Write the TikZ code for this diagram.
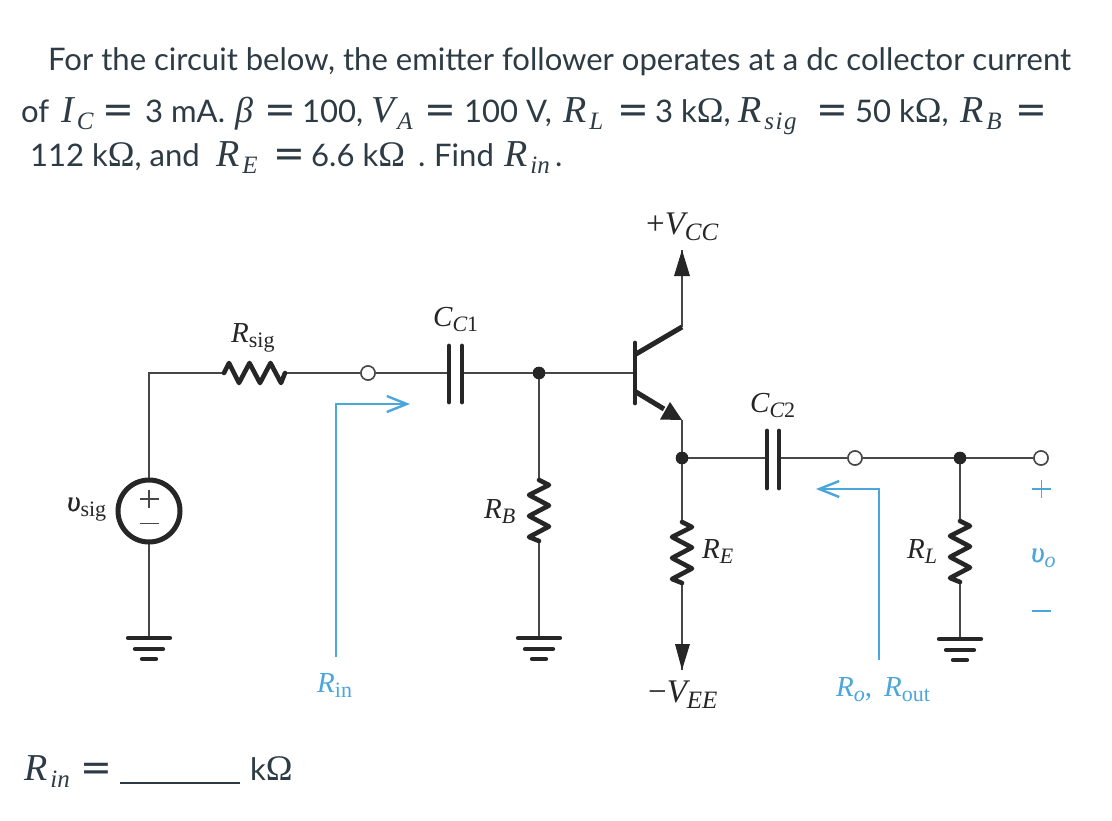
\documentclass[tikz,border=0pt]{standalone}
\usepackage{fontspec}
\setmainfont{Lato}
\newfontfamily\tsf{Liberation Serif}
\newfontfamily\tsfb[FakeBold=1.2]{Liberation Serif}
\newfontfamily\dsf{DejaVu Sans}
\usetikzlibrary{arrows.meta}
\definecolor{qtext}{HTML}{2D3B45}
\definecolor{ink}{HTML}{262626}
\definecolor{bluec}{HTML}{4BA6DC}
\newcommand{\fz}[1]{\fontsize{#1}{#1}\selectfont}
% piece of a line set at an absolute x position
\newcommand{\tb}[2]{\rlap{\hspace*{#1pt}#2}}
% question symbols
\newcommand{\qv}[2]{{\tsf\itshape\fz{38}#1\kern3pt\raisebox{-7pt}{\fz{25}#2}}}
\newcommand{\qe}{{\dsf\fz{38}=}}
\newcommand{\qo}{{\tsf\fz{36}Ω}}
% circuit label: italic symbol, subscript italic or upright
\newcommand{\cli}[2]{{\tsf\itshape\fz{29}#1\raisebox{-5pt}{\fz{22}#2}}}
\newcommand{\clu}[2]{{\tsf\itshape\fz{29}#1\raisebox{-5pt}{\fz{22}\upshape #2}}}
\newcommand{\clb}[2]{{\tsf\itshape\fz{33}#1\raisebox{-6pt}{\fz{25}#2}}}
\newcommand{\ups}{{\tsfb\itshape\fz{29}υ}}
\tikzset{
  wire/.style={draw=ink!85,line width=1.5pt},
  plate/.style={draw=ink,line width=4.8pt,line cap=round},
  thick lead/.style={draw=ink,line width=5pt},
  grnd/.style={draw=ink,line width=4.2pt,line cap=round},
  zig/.style={draw=ink,line width=4.6pt,line join=round,line cap=round},
  dotn/.style={circle,fill=ink,inner sep=0pt,minimum size=12.5pt},
  opn/.style={circle,draw=ink!85,fill=white,line width=1.5pt,inner sep=0pt,minimum size=14pt},
  blueln/.style={draw=bluec,line width=2.4pt},
  headb/.style={-{Straight Barb[length=20pt,width=16pt,line width=2.4pt]}},
  lab/.style={inner sep=0pt,text=ink,anchor=base west},
  qlab/.style={inner sep=0pt,text=qtext,anchor=base west,font=\fz{31.06}},
  pics/hres/.style={code={\draw[zig] (0,0) -- (5,-10) -- (15,10) -- (25.5,-10) -- (36,10) -- (46.5,-10) -- (57,10) -- (61,0);}},
  pics/gnd/.style={code={
    \draw[grnd] (-21,0) -- (21,0);
    \draw[grnd] (-14,11) -- (14,11);
    \draw[grnd] (-7,21) -- (7,21);}}
}
\begin{document}
\begin{tikzpicture}[x=1pt,y=-1pt]
\useasboundingbox (0,0) rectangle (1112,820);
\fill[white] (0,0) rectangle (1112,820);
% question
\node[qlab] (l1) at (48,70) {For the circuit below, the emitter follower operates at a dc collector current};
\node[qlab] (l2) at (0,122) {\tb{21}{of}\tb{61}{\qv{I}{C}}\tb{102}{\qe}\tb{145}{3 mA.}\tb{235}{{\tsf\itshape\fz{36}β}}\tb{264}{\qe}\tb{302}{100,}\tb{371}{\qv{V}{A}}\tb{424}{\qe}\tb{464}{100 V,}\tb{563}{\qv{R}{L}}\tb{617}{\qe}\tb{655}{3 k\qo,}\tb{738}{\qv{R}{s\kern1.5pt i\kern1.5pt g}}\tb{816}{\qe}\tb{855}{50 k\qo,}\tb{960}{\qv{R}{B}}\tb{1015}{\qe}\hspace*{1112pt}};
\node[qlab] (l3) at (0,166) {\tb{30}{112 k\qo, and}\tb{216}{\qv{R}{E}}\tb{273}{\qe}\tb{311}{6.6 k\qo}\tb{418}{.}\tb{434}{Find}\tb{504}{\qv{R}{in}}\tb{555}{.}\hspace*{1112pt}};
% coordinates
\coordinate (srcT) at (149,373);
\coordinate (srcG) at (149,638);
\coordinate (rsA) at (224,373);
\coordinate (rsB) at (285,373);
\node[opn] (inO) at (368,373) {};
\coordinate (c1a) at (449,373);
\coordinate (c1b) at (462,373);
\node[dotn] (bJ) at (539,373) {};
\coordinate (base) at (635,373);
\coordinate (rbA) at (539,480);
\coordinate (rbB) at (539,541);
\coordinate (rbG) at (539,638);
\coordinate (colK) at (682,327);
\coordinate (colT) at (682,250);
\coordinate (emK) at (682,420);
\node[dotn] (eJ) at (682,458) {};
\coordinate (c2a) at (767,458);
\coordinate (c2b) at (779,458);
\node[opn] (outO) at (855,458) {};
\node[dotn] (lJ) at (960,458) {};
\node[opn] (vO) at (1041,458) {};
\coordinate (reA) at (682,522);
\coordinate (reB) at (682,583);
\coordinate (vee) at (682,670);
\coordinate (rlA) at (960,521);
\coordinate (rlB) at (960,582);
\coordinate (rlG) at (960,639);
% wires
\path[wire] (srcG) -- (srcT) -- (rsA);
\path[wire] (rsB) -- (inO) -- (c1a);
\path[wire] (c1b) -- (bJ) -- (base);
\path[wire] (bJ) -- (rbA);
\path[wire] (rbB) -- (rbG);
\path[wire] (colK) -- (colT);
\path[wire] (emK) -- (eJ) -- (reA);
\path[wire] (reB) -- (vee);
\path[wire] (eJ) -- (c2a);
\path[wire] (c2b) -- (outO) -- (lJ) -- (vO);
\path[wire] (lJ) -- (rlA);
\path[wire] (rlB) -- (rlG);
% redraw terminals on top
\node[opn] at (inO) {};
\node[opn] at (outO) {};
\node[opn] at (vO) {};
\node[dotn] at (bJ) {};
\node[dotn] at (eJ) {};
\node[dotn] at (lJ) {};
% resistors
\pic at (rsA) {hres};
\pic[rotate=-90] at (rbA) {hres};
\pic[rotate=-90] at (reA) {hres};
\pic[rotate=-90] at (rlA) {hres};
% capacitors
\path[plate] (449,346) -- (449,402);
\path[plate] (462,346) -- (462,402);
\path[plate] (767,431) -- (767,488);
\path[plate] (779,431) -- (779,488);
% grounds
\pic at (srcG) {gnd};
\pic at (rbG) {gnd};
\pic at (rlG) {gnd};
% source
\node[circle,draw=ink,fill=white,line width=5pt,minimum size=62pt,inner sep=0pt] (src) at (149,511) {};
\draw[ink!85,line width=1.5pt] (139.5,499) -- (158.5,499) (149,490) -- (149,508) (139.5,523.5) -- (158.5,523.5);
% transistor
\path[plate] (635,343) -- (635,403);
\path[thick lead] (636,354) -- (colK);
\path[thick lead] (636,392) -- (664,409);
\fill[ink] (emK) -- (660,419.5) -- (670,402) -- cycle;
% supply arrow heads
\fill[ink] (682,250) -- (674,276) -- (690,276) -- cycle;
\fill[ink] (vee) -- (675,644) -- (690,644) -- cycle;
% blue
\coordinate (b1s) at (336,657);
\coordinate (b1c) at (336,404);
\coordinate (b1e) at (410,404);
\coordinate (b2s) at (879,660);
\coordinate (b2c) at (879,489);
\coordinate (b2e) at (816,489);
\draw[blueln,headb] (b1s) -- (b1c) -- (b1e);
\draw[blueln,headb] (b2s) -- (b2c) -- (b2e);
\draw[bluec,line width=1.5pt] (1032,489) -- (1051,489) (1041.5,480) -- (1041.5,498) (1032,611) -- (1051,611);
% labels
\node[lab] (tVcc) at (646,234) {{\tsf\fz{33}+}\clb{V}{CC}};
\node[lab] (tRsig) at (231,342) {\clu{R}{sig}};
\node[lab] (tCc1) at (433,326) {\cli{C}{\upshape\itshape C\upshape 1}};
\node[lab] (tRb) at (484,518) {\cli{R}{B}};
\node[lab] (tRe) at (702,558) {\cli{R}{E}};
\node[lab] (tRl) at (907,558) {\cli{R}{L}};
\node[lab] (tCc2) at (750,412) {\cli{C}{\upshape\itshape C\upshape 2}};
\node[lab] (tVsig) at (67,511) {\clu{\ups}{sig}};
\node[lab,text=bluec] (tRin) at (317,692) {\clu{R}{in}};
\node[lab,text=bluec] (tRo) at (836,696) {\cli{R}{o}{\tsf\fz{29},}\hspace{12pt}\clu{R}{out}};
\node[lab,text=bluec] (tVo) at (1031,562) {\cli{\ups}{o}};
\node[lab] (tVee) at (648,702) {{\tsf\fz{33}−}\clb{V}{EE}};
% answer line
\node[qlab] (ans) at (0,780) {\tb{24}{\qv{R}{in}}\tb{80}{\qe}\hspace*{200pt}};
\coordinate (blankA) at (120,783);
\coordinate (blankB) at (240,783);
\path[draw=qtext,line width=2pt] (blankA) -- (blankB);
\node[qlab] (unit) at (250,780) {k\qo};
\end{tikzpicture}
\end{document}
